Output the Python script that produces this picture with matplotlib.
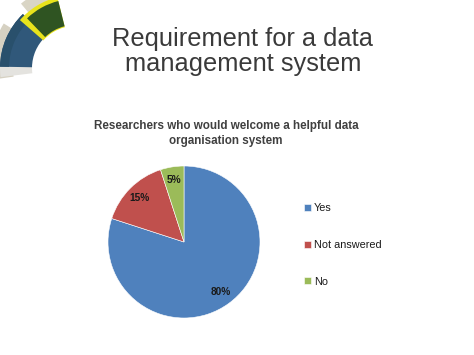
import matplotlib.pyplot as plt
from matplotlib.patches import Wedge

plt.rcParams['font.family'] = ['Liberation Sans', 'DejaVu Sans']

# data
labels = ['Yes', 'Not answered', 'No']
shares = [80, 15, 5]
colors = ['#4F81BD', '#C0504D', '#9BBB59']

W, H = 474, 355
fig = plt.figure(figsize=(W / 100, H / 100), dpi=100)

# background layer in pixel coordinates (corner decoration + titles)
bg = fig.add_axes([0, 0, 1, 1], zorder=0)
bg.set_xlim(0, W)
bg.set_ylim(H, 0)
bg.axis('off')

cx, cy = 75, 68
bg.add_patch(Wedge((cx, cy), 84, 172, 212, width=22, color='#d6d1c2', lw=0))
bg.add_patch(Wedge((cx, cy), 75, 173, 182, width=32, color='#e4e3df', lw=0))
bg.add_patch(Wedge((cx, cy), 84, 230, 262, width=12, color='#d9d5c5', lw=0))
bg.add_patch(Wedge((cx, cy), 75, 181, 226, width=32, color='#30587a', lw=0))
bg.add_patch(Wedge((cx, cy), 75, 181, 226, width=9, color='#29506c', lw=0))
bg.add_patch(Wedge((cx, cy), 73, 221, 256, width=31, color='#e8e31c', lw=0))
bg.add_patch(Wedge((cx, cy), 69, 226, 256, width=26, color='#2f5422', lw=0))

bg.text(243, 46, 'Requirement for a data', ha='center', va='baseline',
        fontsize=18.3, color='#3a3a3a')
bg.text(243, 71, 'management system', ha='center', va='baseline',
        fontsize=18.3, color='#3a3a3a')
bg.text(226, 126, 'Researchers who would welcome a helpful data', ha='center',
        va='center', fontsize=8.4, fontweight='bold', color='#404040')
bg.text(226, 141, 'organisation system', ha='center', va='center',
        fontsize=8.4, fontweight='bold', color='#404040')

# pie
pcx, pcy, r = 184, 242, 76
ax = fig.add_axes([(pcx - r) / W, (H - pcy - r) / H, 2 * r / W, 2 * r / H], zorder=1)
wedges, _, pct = ax.pie(shares, colors=colors, startangle=90, counterclock=False,
                        autopct='%d%%', pctdistance=0.82,
                        wedgeprops=dict(edgecolor='white', linewidth=0.4),
                        textprops=dict(fontsize=7.3, fontweight='bold', color='#1a1a1a'))
ax.set_xlim(-1, 1)
ax.set_ylim(-1, 1)

fig.legend(wedges, labels, loc='center left', bbox_to_anchor=(304 / W, (H - 245) / H),
           frameon=False, fontsize=7.8, handlelength=0.6, handleheight=0.6,
           handletextpad=0.3, labelspacing=2.45, borderpad=0, borderaxespad=0,
           labelcolor='#1a1a1a')

fig.savefig('out.png', dpi=100)
